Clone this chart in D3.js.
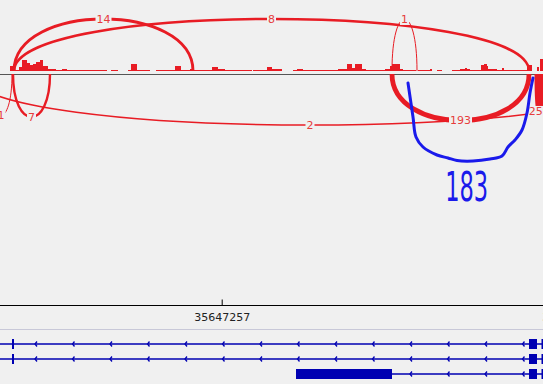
<!DOCTYPE html>
<html>
<head>
<meta charset="utf-8">
<script src="https://d3js.org/d3.v7.min.js"></script>
<style>
  html, body { margin: 0; padding: 0; background: #f0f0f0; overflow: hidden; }
  svg { display: block; }
</style>
</head>
<body>
<div id="sashimi"></div>
<script>

// visible region, bp
var regionStart = 35645040;
var regionEnd = 35650470;

// coverage, bedgraph style: [start, end, depth]
var coverage = [
	[35645140, 35645190, 5], [35645190, 35645230, 1], [35645230, 35645260, 4],
	[35645260, 35645310, 11], [35645310, 35645340, 8], [35645340, 35645370, 6],
	[35645370, 35645400, 7], [35645400, 35645440, 9], [35645440, 35645470, 11],
	[35645470, 35645520, 5], [35645520, 35645600, 2.5], [35645600, 35645660, 1.5],
	[35645660, 35645710, 2.5], [35645710, 35645990, 1], [35645990, 35646110, 1.5],
	[35646150, 35646220, 1], [35646320, 35646350, 1], [35646350, 35646410, 7],
	[35646410, 35646540, 1.5], [35646600, 35646790, 1.5], [35646790, 35646850, 5],
	[35646850, 35646940, 1], [35646940, 35646970, 2], [35646970, 35647070, 1],
	[35647070, 35647110, 1.5], [35647110, 35647160, 1], [35647160, 35647220, 4],
	[35647220, 35647290, 2], [35647290, 35647560, 1], [35647570, 35647710, 1.5],
	[35647710, 35647760, 4], [35647760, 35647860, 2], [35647970, 35648010, 1],
	[35648010, 35648070, 2], [35648070, 35648370, 1], [35648370, 35648420, 1.5],
	[35648420, 35648510, 2], [35648510, 35648560, 7], [35648560, 35648590, 3],
	[35648590, 35648660, 7], [35648660, 35648700, 2], [35648700, 35648890, 1.5],
	[35648890, 35648940, 2.5], [35648940, 35648960, 5], [35648960, 35649040, 7],
	[35649040, 35649070, 2], [35649070, 35649200, 1.5], [35649220, 35649340, 1],
	[35649340, 35649360, 2], [35649410, 35649460, 1], [35649560, 35649610, 1],
	[35649610, 35649640, 1.5], [35649640, 35649690, 2], [35649690, 35649710, 3],
	[35649710, 35649740, 2], [35649740, 35649850, 1.5], [35649850, 35649880, 6],
	[35649880, 35649910, 7], [35649910, 35649920, 5], [35649920, 35650010, 2.5],
	[35650010, 35650060, 1.5], [35650060, 35650080, 3], [35650080, 35650310, 1],
	[35650310, 35650360, 6], [35650410, 35650430, 4], [35650440, 35650480, 12]
];

// splice junctions, + strand drawn above, - strand below
var junctions = [
	{ start: 35645180, end: 35646970, depth: 14, strand: "+" },
	{ start: 35645180, end: 35650330, depth: 8, strand: "+" },
	{ start: 35648960, end: 35649210, depth: 1, strand: "+" },
	{ start: 35644740, end: 35651540, depth: 2, strand: "-" },
	{ start: 35644940, end: 35645160, depth: 1, strand: "-" },
	{ start: 35645170, end: 35645540, depth: 7, strand: "-" },
	{ start: 35648960, end: 35650330, depth: 193, strand: "-" },
	{ start: 35650410, end: 35650455, depth: 259, strand: "-" }
];

// transcripts (minus strand)
var transcripts = [
	{ name: "T1", start: 35644900, end: 35650600,
	  exons: [[35645160, 35645180], [35650330, 35650410], [35650455, 35650470]] },
	{ name: "T2", start: 35644900, end: 35650600,
	  exons: [[35645160, 35645180], [35650330, 35650410], [35650455, 35650470]] },
	{ name: "T3", start: 35648000, end: 35650600,
	  exons: [[35648000, 35648960], [35650330, 35650410], [35650455, 35650470]] }
];

var tickValues = [35647257, 35650737];
var tickLabels = ["35647257", "35650737"];

// hand drawn note: [position, pixels below the junction baseline]
var notePoints = [
	[35649120, 9], [35649170, 43], [35649200, 63], [35649270, 73],
	[35649410, 81], [35649520, 84], [35649610, 86.5], [35649770, 87],
	[35649940, 85], [35650060, 82], [35650120, 73], [35650190, 66],
	[35650260, 56], [35650310, 39], [35650340, 19], [35650370, 4]
];
var noteLabel = "183";


/*
 *  Sashimi plot
 */
function SashimiPlot(parentElement) {
	var vis = this;
	vis.parentElement = parentElement;
	vis.init();
}

SashimiPlot.prototype.init = function() {
	var vis = this;
	vis.width = 543;
	vis.height = 384;

	vis.red = "#e81c24";
	vis.blue = "#0000b2";
	vis.covBase = 71;
	vis.juncBase = 74;
	vis.axisY = 305.5;
	vis.rowY = [344, 359, 374];

	vis.svg = d3.select("#" + vis.parentElement).append("svg")
		.attr("width", vis.width)
		.attr("height", vis.height)
		.style("background", "#f0f0f0");

	vis.x = d3.scaleLinear().domain([regionStart, regionEnd]).range([0, vis.width]);
	vis.yCov = d3.scaleLinear().domain([0, 16]).range([vis.covBase, vis.covBase - 16]);
	vis.stroke = d3.scaleLog().domain([1, 259]).range([1, 5]);
	vis.drop = d3.scaleLog().domain([45, 6800]).range([37, 51]).clamp(true);

	vis.drawCoverage();
	vis.drawJunctions();
	vis.drawNote();
	vis.drawAxis();
	vis.drawTranscripts();
};

SashimiPlot.prototype.drawCoverage = function() {
	var vis = this;
	vis.svg.append("g").selectAll("rect").data(coverage).enter()
		.append("rect")
		.attr("x", function(d) { return vis.x(d[0]); })
		.attr("width", function(d) { return vis.x(d[1]) - vis.x(d[0]); })
		.attr("y", function(d) { return vis.yCov(d[2]); })
		.attr("height", function(d) { return vis.covBase - vis.yCov(d[2]); })
		.attr("fill", vis.red)
		.attr("shape-rendering", "crispEdges");

	vis.svg.append("line")
		.attr("x1", 0).attr("x2", vis.width)
		.attr("y1", vis.juncBase + 0.5).attr("y2", vis.juncBase + 0.5)
		.attr("stroke", "#555")
		.attr("stroke-width", 1.2);
};

SashimiPlot.prototype.drawJunctions = function() {
	var vis = this;

	function geom(d) {
		var up = d.strand == "+";
		var base = up ? vis.covBase : vis.juncBase;
		var h = up ? -52 : vis.drop(d.end - d.start);
		return { x1: vis.x(d.start), x2: vis.x(d.end), base: base, mid: base + h, c: base + h / 0.75 };
	}

	vis.svg.append("g").selectAll("path").data(junctions).enter()
		.append("path")
		.attr("d", function(d) {
			var g = geom(d);
			var p = d3.path();
			p.moveTo(g.x1, g.base);
			p.bezierCurveTo(g.x1, g.c, g.x2, g.c, g.x2, g.base);
			return p.toString();
		})
		.attr("fill", "none")
		.attr("stroke", vis.red)
		.attr("stroke-width", function(d) { return vis.stroke(d.depth); });

	// depth labels sit on the middle of each arc
	var labels = vis.svg.append("g").selectAll("g").data(junctions).enter()
		.append("g")
		.attr("transform", function(d) {
			var g = geom(d);
			return "translate(" + ((g.x1 + g.x2) / 2) + "," + g.mid + ")";
		});

	labels.append("text")
		.attr("text-anchor", "middle")
		.attr("dy", "0.36em")
		.attr("font-family", "DejaVu Sans, sans-serif")
		.attr("font-size", 11)
		.attr("fill", "#e63c3c")
		.text(function(d) { return d.depth; });

	labels.each(function() {
		var g = d3.select(this);
		var b = g.select("text").node().getBBox();
		g.insert("rect", "text")
			.attr("x", b.x - 1).attr("y", b.y + 1)
			.attr("width", b.width + 2).attr("height", b.height - 2)
			.attr("fill", "#f0f0f0");
	});
};

SashimiPlot.prototype.drawNote = function() {
	var vis = this;
	var line = d3.line()
		.x(function(d) { return vis.x(d[0]); })
		.y(function(d) { return vis.juncBase + d[1]; })
		.curve(d3.curveCatmullRom);

	vis.svg.append("path")
		.attr("d", line(notePoints))
		.attr("fill", "none")
		.attr("stroke", "#1a1aeb")
		.attr("stroke-width", 3)
		.attr("stroke-linecap", "round")
		.attr("stroke-linejoin", "round");

	var mid = d3.mean(notePoints, function(d) { return vis.x(d[0]); });
	vis.svg.append("text")
		.attr("x", mid - 30)
		.attr("y", 201)
		.attr("font-family", "DejaVu Sans, sans-serif")
		.attr("font-size", 40)
		.attr("textLength", 43)
		.attr("lengthAdjust", "spacingAndGlyphs")
		.attr("fill", "#1a1aeb")
		.text(noteLabel);
};

SashimiPlot.prototype.drawAxis = function() {
	var vis = this;
	var axis = d3.axisTop(vis.x)
		.tickValues(tickValues)
		.tickFormat(function(d, i) { return tickLabels[i]; })
		.tickSize(6)
		.tickSizeOuter(0);

	var g = vis.svg.append("g")
		.attr("transform", "translate(0," + vis.axisY + ")")
		.call(axis);

	g.select(".domain").attr("stroke", "#000").attr("d", "M0,0H" + vis.width);
	g.selectAll(".tick line").attr("stroke", "#000");
	g.selectAll(".tick text")
		.attr("y", 15)
		.attr("dy", 0)
		.attr("fill", "#222")
		.attr("font-family", "DejaVu Sans, sans-serif")
		.attr("font-size", 11);

	vis.svg.append("line")
		.attr("x1", 0).attr("x2", vis.width)
		.attr("y1", 329.5).attr("y2", 329.5)
		.attr("stroke", "#c8c8d8");
};

SashimiPlot.prototype.drawTranscripts = function() {
	var vis = this;
	var arrowX = d3.range(35, vis.width, 37.5);

	transcripts.forEach(function(t, i) {
		var y = vis.rowY[i];
		var g = vis.svg.append("g");

		g.append("line")
			.attr("x1", Math.max(0, vis.x(t.start))).attr("x2", vis.x(t.end))
			.attr("y1", y).attr("y2", y)
			.attr("stroke", vis.blue)
			.attr("stroke-width", 1.3);

		// introns between exons, where strand arrows go
		var introns = [];
		for (var k = 1; k < t.exons.length; k++) introns.push([t.exons[k - 1][1], t.exons[k][0]]);
		if (t.start < t.exons[0][0]) introns.push([t.start, t.exons[0][0]]);

		var arrows = arrowX.filter(function(ax) {
			return introns.some(function(r) { return ax > vis.x(r[0]) + 3 && ax < vis.x(r[1]) - 3; });
		});

		g.selectAll("path").data(arrows).enter()
			.append("path")
			.attr("d", function(ax) { return "M" + (ax + 2) + "," + (y - 2.5) + "L" + ax + "," + y + "L" + (ax + 2) + "," + (y + 2.5); })
			.attr("fill", "none")
			.attr("stroke", vis.blue)
			.attr("stroke-width", 1.3);

		g.selectAll("rect").data(t.exons).enter()
			.append("rect")
			.attr("x", function(e) { return vis.x(e[0]); })
			.attr("width", function(e) { return Math.max(1.5, vis.x(e[1]) - vis.x(e[0])); })
			.attr("y", y - 5)
			.attr("height", 10)
			.attr("fill", vis.blue);
	});
};

var plot = new SashimiPlot("sashimi");

</script>
</body>
</html>
